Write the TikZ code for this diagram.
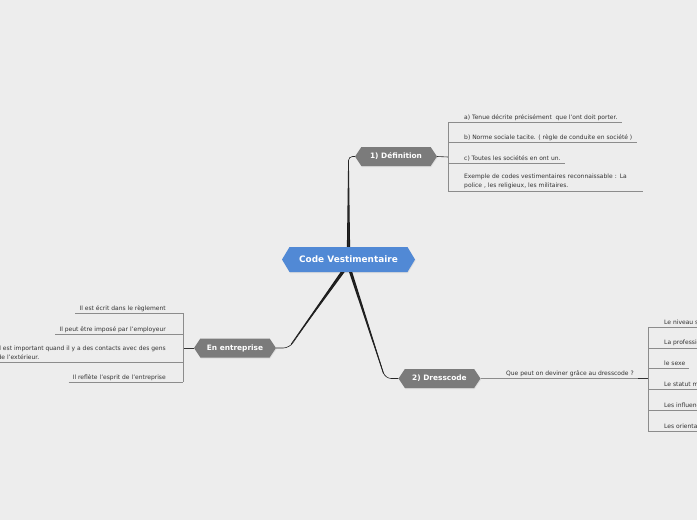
\documentclass[tikz,border=0pt]{standalone}
\usepackage{fontspec}
\setmainfont{DejaVu Sans}
\usepackage{tikz}
\usetikzlibrary{positioning,shapes.symbols,calc,shadows}
\definecolor{PageGrey}{HTML}{EDEDED}
\definecolor{TopicBlue}{HTML}{5189D5}
\definecolor{BranchGrey}{HTML}{7B7B7B}
\definecolor{LeafLine}{HTML}{8C8C8C}
\definecolor{LeafText}{HTML}{333333}

\begin{document}
\begin{tikzpicture}[
      x=1pt, y=-1pt,
      every node/.style={font=\fontsize{6}{9}\selectfont, text=LeafText},
      central/.style={shape=signal, signal to=east and west, signal pointer angle=118,
        fill=TopicBlue, text=white, font=\fontsize{8.9}{10}\selectfont\bfseries,
        minimum width=133pt, minimum height=25pt, inner sep=0pt,
        drop shadow={opacity=0.15, shadow xshift=0.6pt, shadow yshift=-1pt}},
      branch/.style={shape=signal, signal to=east and west, signal pointer angle=112,
        fill=BranchGrey, text=white, font=\fontsize{7.4}{9}\selectfont\bfseries,
        minimum width=82pt, minimum height=19pt, inner sep=0pt,
        drop shadow={opacity=0.15, shadow xshift=0.6pt, shadow yshift=-1pt}},
      leafbox/.style={inner xsep=4pt, inner ysep=2pt, align=left},
      leaf/.style={inner xsep=4pt, inner ysep=1.5pt, text height=4.5pt, text depth=1.3pt},
      trunk/.style={fill=black!90},
      twig/.style={draw=black!85, line width=0.6pt},
      stem/.style={draw=black!80, line width=1pt},
      leafline/.style={draw=LeafLine, line width=0.6pt}
    ]
      \fill[PageGrey] (0,0) rectangle (697,520);
      \useasboundingbox (0,0) rectangle (697,520);
      \clip (0,0) rectangle (697,520);

      % main topic and branches
      \node[central] (cv) at (348.5,259.5) {Code Vestimentaire};
      \node[branch] (def) at (396,156.5) {1) Définition};
      \node[branch] (dress) at (439.5,378.5) {2) Dresscode};
      \node[branch] (ent) at (235,348) {En entreprise};

      % connectors from the main topic
      \coordinate (defbend) at (cv.north |- def.west);
      \coordinate (dressbend) at ($(dress.west)+(-13,0)$);
      \coordinate (entbend) at ($(ent.east)+(13,0)$);
      \fill[trunk] ($(cv.north)+(-1.6,0)$) -- ($(cv.north)+(1.6,0)$)
        -- ($(defbend)+(0.35,4)$) -- ($(defbend)+(-0.35,4)$) -- cycle;
      \draw[twig, rounded corners=4pt] (cv.north) |- (def.west);
      \fill[trunk] ($(cv.south)+(0.6,0)$) -- ($(cv.south)+(3.8,0)$)
        -- ($(dressbend)+(-1.4,-5)$) -- ($(dressbend)+(-2.2,-5)$) -- cycle;
      \draw[twig, rounded corners=6pt] ($(cv.south)+(2.2,0)$) -- (dressbend) -- (dress.west);
      \fill[trunk] ($(cv.south)+(-8,0)$) -- ($(cv.south)+(-4,0)$)
        -- ($(entbend)+(2.4,-4)$) -- ($(entbend)+(1.6,-4)$) -- cycle;
      \draw[twig, rounded corners=6pt] ($(cv.south)+(-6,0)$) -- (entbend) -- (ent.east);

      % 1) Definition
      \coordinate (defbar) at (448,157);
      \draw[twig] (def.east) -- (defbar);
      \node[leaf, anchor=south west] (defa) at (460,122) {a) Tenue décrite précisément\ \ que l'ont doit porter.};
      \node[leaf, anchor=south west] (defb) at (460,142) {b) Norme sociale tacite. ( règle de conduite en société )};
      \node[leaf, anchor=south west] (defc) at (460,163) {c) Toutes les sociétés en ont un.};
      \node[leafbox, anchor=south west, text width=175pt] (defd) at (460,191)
        {Exemple de codes vestimentaires reconnaissable : La\\police , les religieux, les militaires.};
      \foreach \leafname in {defa,defb,defc,defd}
        \draw[leafline] (\leafname.south -| defbar) -- (\leafname.south east);
      \draw[leafline] (defa.south -| defbar) -- (defd.south -| defbar);

      % 2) Dresscode
      \node[leaf, anchor=south west] (quest) at (502,378.5) {Que peut on deviner grâce au dresscode ?};
      \coordinate (dressbar) at (648,378.5);
      \draw[leafline] (dress.east) -- (quest.south east);
      \draw[stem] (quest.south east) -- (dressbar);
      \node[leaf, anchor=south west] (gua) at (660,327) {Le niveau social};
      \node[leaf, below=11.6pt of gua.south west, anchor=north west] (gub) {La profession};
      \node[leaf, below=11.6pt of gub.south west, anchor=north west] (guc) {le sexe};
      \node[leaf, below=11.6pt of guc.south west, anchor=north west] (gud) {Le statut marital};
      \node[leaf, below=11.6pt of gud.south west, anchor=north west] (gue) {Les influences};
      \node[leaf, below=11.6pt of gue.south west, anchor=north west] (guf) {Les orientations};
      \foreach \leafname in {gua,gub,guc,gud,gue,guf}
        \draw[leafline] (\leafname.south -| dressbar) -- (\leafname.south east);
      \draw[leafline] (gua.south -| dressbar) -- (guf.south -| dressbar);

      % En entreprise
      \coordinate (entbar) at (183,348);
      \draw[stem] (ent.west) -- (entbar);
      \node[leaf, anchor=south east] (enta) at (170,313) {Il est écrit dans le règlement};
      \node[leaf, anchor=south east] (entb) at (170,334) {Il peut être imposé par l'employeur};
      \node[leafbox, anchor=south east] (entc) at (170,362)
        {Il est important quand il y a des contacts avec des gens\\de l'extérieur.};
      \node[leaf, anchor=south east] (entd) at (170,382) {Il reflète l'esprit de l'entreprise};
      \foreach \leafname in {enta,entb,entc,entd}
        \draw[leafline] (\leafname.south west) -- (\leafname.south -| entbar);
      \draw[leafline] (enta.south -| entbar) -- (entd.south -| entbar);
\end{tikzpicture}
\end{document}
